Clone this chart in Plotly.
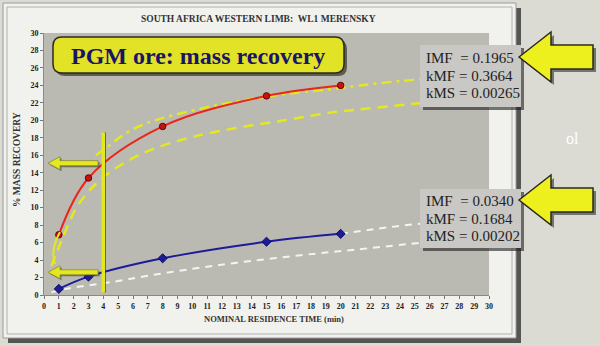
import plotly.graph_objects as go

# ---------------- data ----------------
time_pts = [1, 3, 8, 15, 20]
pgm_recovery = [6.9, 13.4, 19.3, 22.8, 24.0]
ore_b_recovery = [0.7, 2.1, 4.2, 6.1, 7.0]

fit_upper_t = [3.5, 4, 5.5, 6.8, 8.3, 11, 12.8, 16.2, 19, 21.3, 24, 25.5]
fit_upper_r = [16.0, 16.6, 18.5, 19.6, 20.4, 21.5, 22.1, 23.0, 23.5, 24.0, 24.5, 24.7]

fit_lower_t = [0.5, 1.2, 2.3, 3.8, 5.8, 7.5, 10, 13.2, 16.2, 19, 21, 25.5]
fit_lower_r = [3.3, 6.3, 10.3, 13.2, 15.5, 16.8, 18.1, 19.2, 20.0, 20.8, 21.2, 22.0]

fit_white_t = [0.5, 1.5, 3, 5, 7, 10, 13, 17, 21, 25.5]
fit_white_r = [0.3, 0.7, 1.1, 1.6, 2.2, 3.0, 3.7, 4.5, 5.2, 6.0]

ext_white_t = [20, 22.5, 25.5]
ext_white_r = [7.0, 7.6, 8.2]

x_ticks = list(range(0, 31))
y_ticks = list(range(0, 31, 2))

params_pgm = ["IMF&nbsp; = 0.1965", "kMF = 0.3664", "kMS = 0.00265"]
params_b = ["IMF&nbsp; = 0.0340", "kMF = 0.1684", "kMS = 0.00202"]

marker_time = 4
arrow_levels = [15.1, 2.6]

# ---------------- helpers (pixel -> paper) ----------------
L, R, T, B = 44, 489, 33, 295


def px(x):
    return (x - L) / (R - L)


def py(y):
    return (B - y) / (B - T)


def path(pts, close=True):
    s = "M" + " L".join(f"{px(x):.5f},{py(y):.5f}" for x, y in pts)
    return s + (" Z" if close else "")


def rrect(x0, y0, x1, y1, r):
    segs = [
        f"M{px(x0 + r):.5f},{py(y0):.5f}",
        f"L{px(x1 - r):.5f},{py(y0):.5f}",
        f"Q{px(x1):.5f},{py(y0):.5f} {px(x1):.5f},{py(y0 + r):.5f}",
        f"L{px(x1):.5f},{py(y1 - r):.5f}",
        f"Q{px(x1):.5f},{py(y1):.5f} {px(x1 - r):.5f},{py(y1):.5f}",
        f"L{px(x0 + r):.5f},{py(y1):.5f}",
        f"Q{px(x0):.5f},{py(y1):.5f} {px(x0):.5f},{py(y1 - r):.5f}",
        f"L{px(x0):.5f},{py(y0 + r):.5f}",
        f"Q{px(x0):.5f},{py(y0):.5f} {px(x0 + r):.5f},{py(y0):.5f}",
        "Z",
    ]
    return " ".join(segs)


def rect_shape(x0, y0, x1, y1, fill, line=None, lw=0, layer="below"):
    return dict(type="rect", xref="paper", yref="paper",
                x0=px(x0), x1=px(x1), y0=py(y1), y1=py(y0),
                fillcolor=fill, line=dict(color=line or "rgba(0,0,0,0)", width=lw),
                layer=layer)


fig = go.Figure()

YEL = "#e4e81e"

# model curves
fig.add_trace(go.Scatter(x=fit_upper_t, y=fit_upper_r, mode="lines",
                         line=dict(color=YEL, width=2.5, dash="10px,5px,3px,5px", shape="spline"),
                         hoverinfo="skip"))
fig.add_trace(go.Scatter(x=fit_lower_t, y=fit_lower_r, mode="lines",
                         line=dict(color=YEL, width=2.5, dash="10px,7px", shape="spline"),
                         hoverinfo="skip"))
fig.add_trace(go.Scatter(x=fit_white_t, y=fit_white_r, mode="lines",
                         line=dict(color="#f4f4f0", width=2, dash="7px,6px", shape="spline"),
                         hoverinfo="skip"))
fig.add_trace(go.Scatter(x=ext_white_t, y=ext_white_r, mode="lines",
                         line=dict(color="#f4f4f0", width=2, dash="7px,6px", shape="spline"),
                         hoverinfo="skip"))

# measured data
fig.add_trace(go.Scatter(x=time_pts, y=pgm_recovery, mode="lines+markers",
                         line=dict(color="#e8261a", width=2, shape="spline"),
                         marker=dict(symbol="circle", size=6.5, color="#cc1010",
                                     line=dict(color="#5a0a0a", width=1))))
fig.add_trace(go.Scatter(x=time_pts, y=ore_b_recovery, mode="lines+markers",
                         line=dict(color="#1c1c9a", width=2, shape="spline"),
                         marker=dict(symbol="diamond", size=7, color="#1c1c9a",
                                     line=dict(color="#0c0c60", width=1))))

shapes = []
# slide frame
shapes.append(rect_shape(8, 8, 521, 343, "rgba(40,40,40,0.75)"))
shapes.append(rect_shape(3, 3, 516, 338, "#f1f1ee", "#9a9a9a", 1))
shapes.append(rect_shape(7, 7, 512, 334, "rgba(0,0,0,0)", "#b0b0b0", 1))
# plot area
shapes.append(rect_shape(L, T, R, B, "#bbbab2"))

# vertical marker line at t = 4
shapes.append(dict(type="line", xref="x", yref="y", x0=marker_time + 0.1, x1=marker_time + 0.1,
                   y0=0.3, y1=18.6, line=dict(color="rgba(40,40,30,0.8)", width=2), layer="above"))
shapes.append(dict(type="line", xref="x", yref="y", x0=marker_time, x1=marker_time,
                   y0=0.3, y1=18.6, line=dict(color=YEL, width=3.5), layer="above"))

# small left-pointing arrows
for lv in arrow_levels:
    yy = B - lv * (B - T) / 30
    pts = [(48, yy), (60, yy - 6.5), (60, yy - 2.5), (98, yy - 2.5), (98, yy + 2.5),
           (60, yy + 2.5), (60, yy + 6.5)]
    sh = [(x + 1.5, y + 1.5) for x, y in pts]
    shapes.append(dict(type="path", xref="paper", yref="paper", path=path(sh),
                       fillcolor="rgba(50,50,30,0.55)", line=dict(width=0), layer="above"))
    shapes.append(dict(type="path", xref="paper", yref="paper", path=path(pts),
                       fillcolor=YEL, line=dict(color="#8a8a30", width=0.8), layer="above"))

# curved stem near lower arrow
shapes.append(dict(type="path", xref="paper", yref="paper",
                   path=f"M{px(60):.5f},{py(232):.5f} Q{px(50):.5f},{py(250):.5f} {px(55):.5f},{py(264):.5f}",
                   line=dict(color=YEL, width=2), layer="above"))

# title box "PGM ore: mass recovery"
shapes.append(dict(type="path", xref="paper", yref="paper", path=rrect(56, 40, 347, 76, 9),
                   fillcolor="rgba(30,30,20,0.6)", line=dict(width=0), layer="above"))
shapes.append(dict(type="path", xref="paper", yref="paper", path=rrect(53, 37, 344, 73, 9),
                   fillcolor="#e2e326", line=dict(color="#2a2a20", width=1.5), layer="above"))

# parameter boxes
for (y0, y1) in [(45, 107), (189, 248)]:
    shapes.append(rect_shape(423, y0 + 3, 524, y1 + 3, "rgba(30,30,30,0.6)", layer="above"))
    shapes.append(rect_shape(420, y0, 521, y1, "#c9c8c4", layer="above"))

# big yellow arrows
for tipy in [57, 200]:
    pts = [(519, tipy), (551, tipy - 25), (551, tipy - 12), (593, tipy - 12),
           (593, tipy + 12), (551, tipy + 12), (551, tipy + 25)]
    sh = [(x + 3, y + 3) for x, y in pts]
    shapes.append(dict(type="path", xref="paper", yref="paper", path=path(sh),
                       fillcolor="rgba(30,30,30,0.55)", line=dict(width=0), layer="above"))
    shapes.append(dict(type="path", xref="paper", yref="paper", path=path(pts),
                       fillcolor="#eef01e", line=dict(color="#2a2a20", width=1.5), layer="above"))

annotations = []
SERIF = "Liberation Serif"


def ann(text, x, y, size, color="#222", bold=False, xanchor="center", angle=0):
    annotations.append(dict(text=text, xref="paper", yref="paper", x=px(x), y=py(y),
                            showarrow=False, xanchor=xanchor, yanchor="middle", textangle=angle,
                            font=dict(family=SERIF, size=size, color=color,
                                      weight="bold" if bold else "normal")))


ann("SOUTH AFRICA WESTERN LIMB:  WL1 MERENSKY", 258, 19, 9.5, "#333", True)
ann("% MASS RECOVERY", 17, 160, 9.5, "#333", True, angle=-90)
ann("NOMINAL RESIDENCE TIME (min)", 274, 319, 8.5, "#333", True)
ann("PGM ore: mass recovery", 198, 56, 24, "#1a1466", True)
for i, t in enumerate(params_pgm):
    ann(t, 424, 58 + i * 17.5, 15, "#222", False, "left")
for i, t in enumerate(params_b):
    ann(t, 424, 201 + i * 17.5, 15, "#222", False, "left")
ann("ol", 572, 138, 16, "#ffffff")

axis_common = dict(range=[0, 30], ticks="outside", ticklen=3, tickcolor="#777",
                   showline=True, linecolor="#888", linewidth=1, showgrid=False,
                   zeroline=False, fixedrange=True,
                   tickfont=dict(family=SERIF, size=8, color="#222", weight="bold"))

fig.update_layout(
    width=600, height=346,
    margin=dict(l=L, r=600 - R, t=T, b=346 - B),
    paper_bgcolor="#dcdbd3",
    plot_bgcolor="rgba(0,0,0,0)",
    showlegend=False,
    xaxis=dict(tickvals=x_ticks, **axis_common),
    yaxis=dict(tickvals=y_ticks, **axis_common),
    shapes=shapes,
    annotations=annotations,
)

fig.write_html("out.html")
